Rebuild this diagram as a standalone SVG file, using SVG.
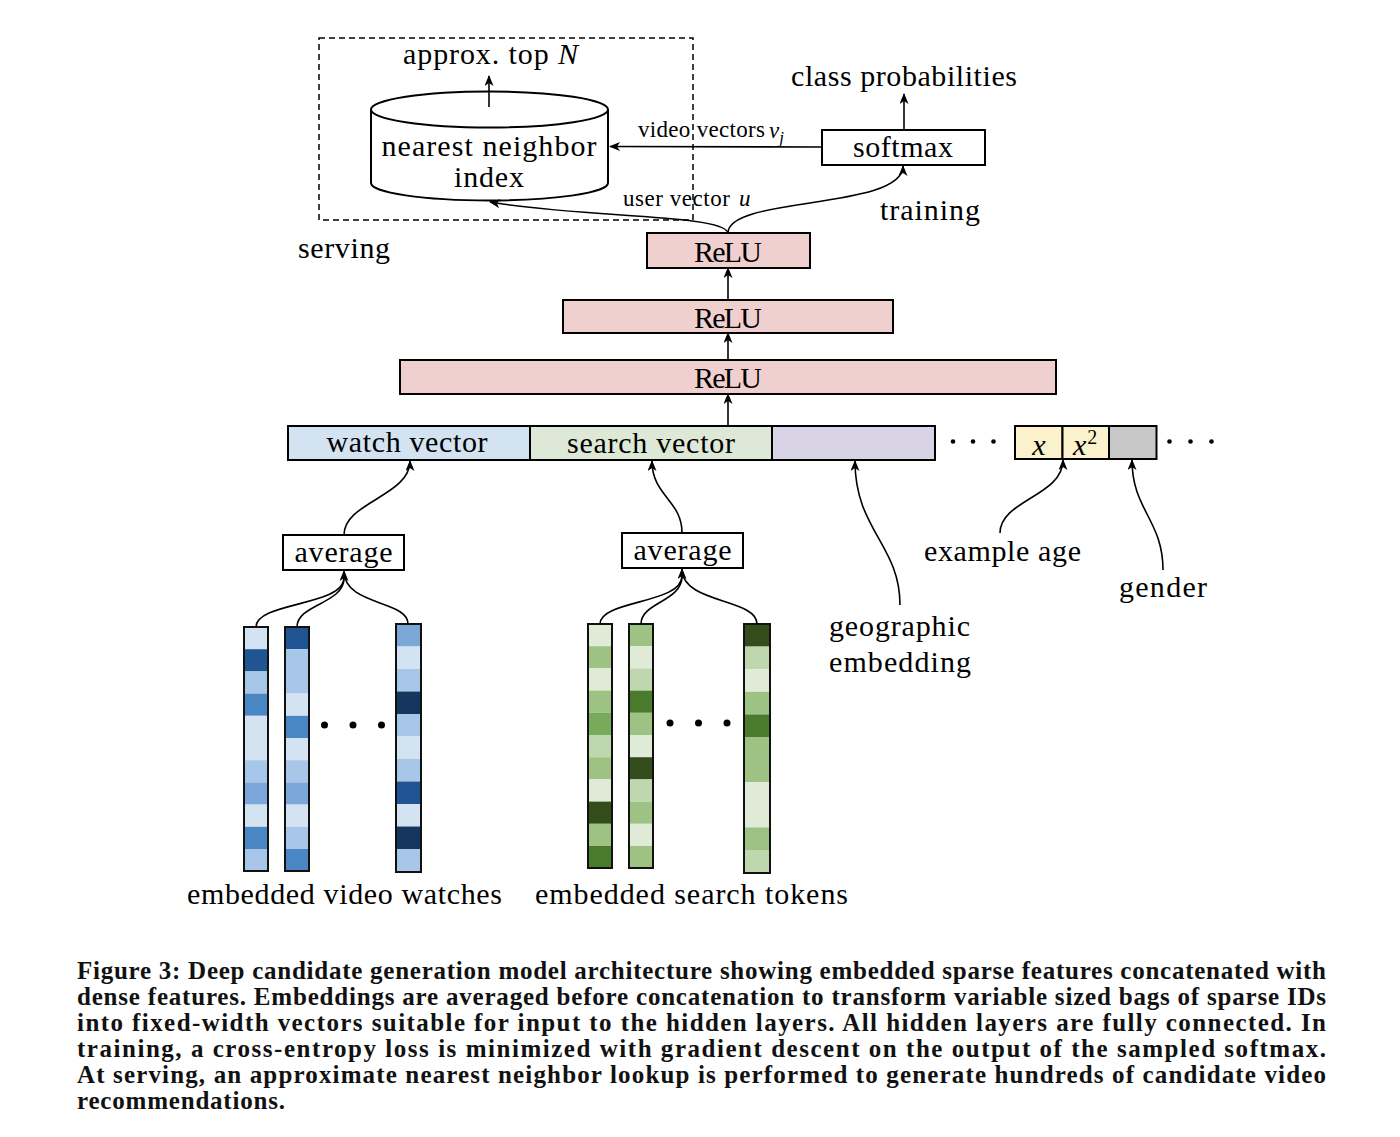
<svg xmlns="http://www.w3.org/2000/svg" width="1400" height="1137" viewBox="0 0 1400 1137">
<defs>
<marker id="arr" markerUnits="userSpaceOnUse" markerWidth="11" markerHeight="9" refX="10" refY="4.5" orient="auto">
<path d="M0,0 L11,4.5 L0,9 L3,4.5 z" fill="#000"/>
</marker>
<style>
.t{font-family:"Liberation Serif",serif;font-size:30px;fill:#000}
.s{font-family:"Liberation Serif",serif;font-size:23px;fill:#000}
.i{font-style:italic}
.cap{font-family:"Liberation Serif",serif;font-size:25px;font-weight:bold;fill:#111}
.box{fill:#fff;stroke:#000;stroke-width:2}
.relu{fill:#f0cfcf;stroke:#000;stroke-width:2}
.edge{fill:none;stroke:#000;stroke-width:1.6}
.arrow{fill:none;stroke:#000;stroke-width:1.6;marker-end:url(#arr)}
.col{fill:none;stroke:#111;stroke-width:2}
.bL{fill:#d4e3f2}.bML{fill:#a7c6e8}.bMM{fill:#7ba8d8}.bM{fill:#4b86c4}.bD{fill:#205493}.bVD{fill:#14365f}
.gVL{fill:#dfebd7}.gL{fill:#bed7ae}.gML{fill:#9dc284}.gM{fill:#78aa5b}.gD{fill:#4a7a2b}.gVD{fill:#324c1b}
</style>
</defs>
<rect width="1400" height="1137" fill="#fff"/>

<g id="serving-box">
<rect x="319" y="38" width="374" height="182" fill="none" stroke="#000" stroke-width="1.5" stroke-dasharray="6 4"/>
<text class="t" x="298" y="258" textLength="92">serving</text>
</g>

<g id="approx-top-n">
<text class="t" x="403" y="64" textLength="175">approx. top <tspan class="i">N</tspan></text>
</g>

<g id="nn-index">
<path d="M371,109.5 L371,183 A118.5,17.5 0 0 0 608,183 L608,109.5" fill="#fff" stroke="#000" stroke-width="2"/>
<ellipse cx="489.5" cy="109.5" rx="118.5" ry="18" fill="#fff" stroke="#000" stroke-width="2"/>
<text class="t" x="489" y="156" text-anchor="middle" textLength="215">nearest neighbor</text>
<text class="t" x="489" y="187" text-anchor="middle" textLength="70">index</text>
</g>

<g id="softmax">
<rect class="box" x="822" y="130" width="163" height="35"/>
<text class="t" x="903" y="157" text-anchor="middle" textLength="100">softmax</text>
</g>

<g id="class-probabilities">
<text class="t" x="904" y="86" text-anchor="middle" textLength="226">class probabilities</text>
</g>

<g id="relu1">
<rect class="relu" x="647" y="233" width="163" height="35"/>
<text class="t" x="728" y="262" text-anchor="middle" font-size="28" textLength="68">ReLU</text>
</g>
<g id="relu2">
<rect class="relu" x="563" y="300" width="330" height="33"/>
<text class="t" x="728" y="328" text-anchor="middle" textLength="68">ReLU</text>
</g>
<g id="relu3">
<rect class="relu" x="400" y="360" width="656" height="34"/>
<text class="t" x="728" y="388" text-anchor="middle" textLength="68">ReLU</text>
</g>

<g id="feature-bar">
<rect x="288" y="426" width="242" height="34" fill="#d3e3f1" stroke="#000" stroke-width="2"/>
<rect x="530" y="426" width="242" height="34" fill="#dde9d6" stroke="#000" stroke-width="2"/>
<rect x="772" y="426" width="163" height="34" fill="#d9d3e6" stroke="#000" stroke-width="2"/>
<text class="t" x="407" y="452" text-anchor="middle" textLength="161">watch vector</text>
<text class="t" x="651" y="453" text-anchor="middle" textLength="168">search vector</text>
<circle cx="953" cy="441.5" r="2.3"/><circle cx="973" cy="441.5" r="2.3"/><circle cx="993.5" cy="441.5" r="2.3"/>
<rect x="1015" y="426" width="47.5" height="33" fill="#fbf1cc" stroke="#000" stroke-width="2"/>
<rect x="1062.5" y="426" width="46.5" height="33" fill="#fbf1cc" stroke="#000" stroke-width="2"/>
<rect x="1109" y="426" width="47.5" height="33" fill="#c8c8c8" stroke="#000" stroke-width="2"/>
<text class="t i" x="1039" y="455" text-anchor="middle" font-size="28">x</text>
<text class="t i" x="1073" y="455" font-size="28">x<tspan font-style="normal" font-size="20" dx="1" dy="-11">2</tspan></text>
<circle cx="1169.5" cy="441.5" r="2.3"/><circle cx="1190.5" cy="441.5" r="2.3"/><circle cx="1211.5" cy="441.5" r="2.3"/>
</g>

<g id="average-watch">
<rect class="box" x="283" y="535" width="121" height="35"/>
<text class="t" x="343.5" y="562" text-anchor="middle" textLength="98">average</text>
</g>
<g id="average-search">
<rect class="box" x="622" y="533" width="121" height="35"/>
<text class="t" x="682.5" y="560" text-anchor="middle" textLength="98">average</text>
</g>

<g id="geographic-embedding">
<text class="t" x="829" y="636" textLength="141">geographic</text>
<text class="t" x="829" y="672" textLength="142">embedding</text>
</g>
<g id="example-age">
<text class="t" x="924" y="561" textLength="157">example age</text>
</g>
<g id="gender">
<text class="t" x="1119" y="597" textLength="88">gender</text>
</g>

<g id="video-watches">
<g id="watch-col1">
<rect class="bL" x="244" y="627" width="24" height="22.2"/>
<rect class="bD" x="244" y="649.2" width="24" height="22.2"/>
<rect class="bML" x="244" y="671.4" width="24" height="22.2"/>
<rect class="bM" x="244" y="693.6" width="24" height="22.2"/>
<rect class="bL" x="244" y="715.8" width="24" height="44.4"/>
<rect class="bML" x="244" y="760.2" width="24" height="22.2"/>
<rect class="bMM" x="244" y="782.4" width="24" height="22.2"/>
<rect class="bL" x="244" y="804.6" width="24" height="22.2"/>
<rect class="bM" x="244" y="826.8" width="24" height="22.2"/>
<rect class="bML" x="244" y="849" width="24" height="22"/>
<rect class="col" x="244" y="627" width="24" height="244"/>
</g>
<g id="watch-col2">
<rect class="bD" x="285" y="627" width="24" height="22.2"/>
<rect class="bML" x="285" y="649.2" width="24" height="44.4"/>
<rect class="bL" x="285" y="693.6" width="24" height="22.2"/>
<rect class="bM" x="285" y="715.8" width="24" height="22.2"/>
<rect class="bL" x="285" y="738" width="24" height="22.2"/>
<rect class="bML" x="285" y="760.2" width="24" height="22.2"/>
<rect class="bMM" x="285" y="782.4" width="24" height="22.2"/>
<rect class="bL" x="285" y="804.6" width="24" height="22.2"/>
<rect class="bML" x="285" y="826.8" width="24" height="22.2"/>
<rect class="bM" x="285" y="849" width="24" height="22"/>
<rect class="col" x="285" y="627" width="24" height="244"/>
</g>
<circle cx="324.5" cy="725" r="3.5"/><circle cx="353" cy="725" r="3.5"/><circle cx="381.5" cy="725" r="3.5"/>
<g id="watch-col3">
<rect class="bMM" x="396" y="624" width="25" height="22.5"/>
<rect class="bL" x="396" y="646.5" width="25" height="22.5"/>
<rect class="bML" x="396" y="669" width="25" height="22.5"/>
<rect class="bVD" x="396" y="691.5" width="25" height="22.5"/>
<rect class="bML" x="396" y="714" width="25" height="22.5"/>
<rect class="bL" x="396" y="736.5" width="25" height="22.5"/>
<rect class="bML" x="396" y="759" width="25" height="22.5"/>
<rect class="bD" x="396" y="781.5" width="25" height="22.5"/>
<rect class="bL" x="396" y="804" width="25" height="22.5"/>
<rect class="bVD" x="396" y="826.5" width="25" height="22.5"/>
<rect class="bML" x="396" y="849" width="25" height="23"/>
<rect class="col" x="396" y="624" width="25" height="248"/>
</g>
<text class="t" x="344.5" y="904" text-anchor="middle" textLength="315">embedded video watches</text>
</g>

<g id="search-tokens">
<g id="search-col1">
<rect class="gVL" x="588" y="624" width="24" height="22.2"/>
<rect class="gML" x="588" y="646.2" width="24" height="22.2"/>
<rect class="gVL" x="588" y="668.4" width="24" height="22.2"/>
<rect class="gML" x="588" y="690.6" width="24" height="22.2"/>
<rect class="gM" x="588" y="712.8" width="24" height="22.2"/>
<rect class="gL" x="588" y="735" width="24" height="22.2"/>
<rect class="gML" x="588" y="757.2" width="24" height="22.2"/>
<rect class="gVL" x="588" y="779.4" width="24" height="22.2"/>
<rect class="gVD" x="588" y="801.6" width="24" height="22.2"/>
<rect class="gML" x="588" y="823.8" width="24" height="22.2"/>
<rect class="gD" x="588" y="846" width="24" height="22"/>
<rect class="col" x="588" y="624" width="24" height="244"/>
</g>
<g id="search-col2">
<rect class="gML" x="629" y="624" width="24" height="22.2"/>
<rect class="gVL" x="629" y="646.2" width="24" height="22.2"/>
<rect class="gL" x="629" y="668.4" width="24" height="22.2"/>
<rect class="gD" x="629" y="690.6" width="24" height="22.2"/>
<rect class="gML" x="629" y="712.8" width="24" height="22.2"/>
<rect class="gVL" x="629" y="735" width="24" height="22.2"/>
<rect class="gVD" x="629" y="757.2" width="24" height="22.2"/>
<rect class="gL" x="629" y="779.4" width="24" height="22.2"/>
<rect class="gML" x="629" y="801.6" width="24" height="22.2"/>
<rect class="gVL" x="629" y="823.8" width="24" height="22.2"/>
<rect class="gML" x="629" y="846" width="24" height="22"/>
<rect class="col" x="629" y="624" width="24" height="244"/>
</g>
<circle cx="670" cy="723" r="3.5"/><circle cx="698.5" cy="723" r="3.5"/><circle cx="727" cy="723" r="3.5"/>
<g id="search-col3">
<rect class="gVD" x="744" y="624" width="26" height="22.6"/>
<rect class="gL" x="744" y="646.6" width="26" height="22.6"/>
<rect class="gVL" x="744" y="669.2" width="26" height="22.6"/>
<rect class="gML" x="744" y="691.8" width="26" height="22.6"/>
<rect class="gD" x="744" y="714.4" width="26" height="22.6"/>
<rect class="gML" x="744" y="737" width="26" height="45.2"/>
<rect class="gVL" x="744" y="782.2" width="26" height="45.2"/>
<rect class="gML" x="744" y="827.4" width="26" height="22.6"/>
<rect class="gL" x="744" y="850" width="26" height="23"/>
<rect class="col" x="744" y="624" width="26" height="249"/>
</g>
<text class="t" x="691.5" y="904" text-anchor="middle" textLength="313">embedded search tokens</text>
</g>

<g id="connectors">
<path class="arrow" d="M489,107 L489,76"/>
<path class="arrow" d="M904,130 L904,94"/>
<path class="arrow" d="M822,147 L610,146.5"/>
<text class="s" x="638" y="137" textLength="127">video vectors</text>
<text class="s i" x="769" y="138" font-size="26">v<tspan font-size="17" dy="5">j</tspan></text>
<path class="arrow" d="M728,233 C728,196 903,210 903,166"/>
<path class="arrow" d="M728,233 C724,214 580,218 490,202"/>
<text class="s" x="623" y="206" textLength="107">user vector</text>
<text class="s i" x="739" y="206" font-size="27">u</text>
<text class="t" x="880" y="220" textLength="100">training</text>
<path class="arrow" d="M728,300 L728,268"/>
<path class="arrow" d="M728,360 L728,333"/>
<path class="arrow" d="M728,426 L728,394"/>
<path class="arrow" d="M344,535 C344,502 410,496 410,461"/>
<path class="arrow" d="M682,533 C682,500 652,496 652,461"/>
<path class="arrow" d="M900,605 C900,545 855,530 855,461"/>
<path class="arrow" d="M1000,533 C1000,500 1063,496 1063,460"/>
<path class="arrow" d="M1163,570 C1163,520 1132,510 1132,460"/>
<path class="edge" d="M256,627 C256,602 344,606 344,578"/>
<path class="edge" d="M297,627 C297,604 344,604 344,578"/>
<path class="arrow" d="M408,624 C408,600 344,606 344,571"/>
<path class="edge" d="M600,624 C600,600 682,604 682,576"/>
<path class="edge" d="M641,624 C641,602 682,602 682,576"/>
<path class="arrow" d="M757,624 C757,598 682,604 682,569"/>
</g>

<g id="caption">
<text class="cap" x="77" y="979" textLength="1249" lengthAdjust="spacing">Figure 3: Deep candidate generation model architecture showing embedded sparse features concatenated with</text>
<text class="cap" x="77" y="1005" textLength="1249" lengthAdjust="spacing">dense features. Embeddings are averaged before concatenation to transform variable sized bags of sparse IDs</text>
<text class="cap" x="77" y="1031" textLength="1249" lengthAdjust="spacing">into fixed-width vectors suitable for input to the hidden layers. All hidden layers are fully connected. In</text>
<text class="cap" x="77" y="1057" textLength="1249" lengthAdjust="spacing">training, a cross-entropy loss is minimized with gradient descent on the output of the sampled softmax.</text>
<text class="cap" x="77" y="1083" textLength="1249" lengthAdjust="spacing">At serving, an approximate nearest neighbor lookup is performed to generate hundreds of candidate video</text>
<text class="cap" x="77" y="1109" textLength="208">recommendations.</text>
</g>
</svg>
